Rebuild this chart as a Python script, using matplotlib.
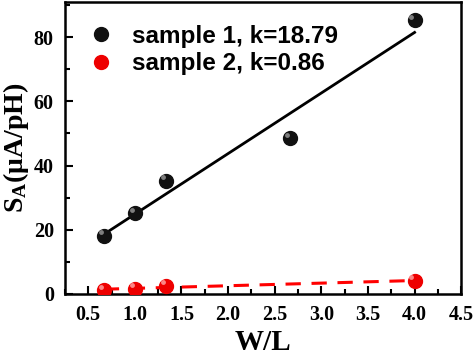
import numpy as np
import matplotlib
matplotlib.use("Agg")
import matplotlib.pyplot as plt
from matplotlib.ticker import MultipleLocator

plt.rcParams["mathtext.fontset"] = "custom"
plt.rcParams["mathtext.rm"] = "Liberation Serif:bold"
plt.rcParams["mathtext.bf"] = "Liberation Serif:bold"
plt.rcParams["mathtext.it"] = "Liberation Serif:bold"

# data
wl1 = [0.667, 1.0, 1.333, 2.667, 4.0]
sa1 = [18.2, 25.1, 35.2, 48.5, 85.3]
wl2 = [0.667, 1.0, 1.333, 4.0]
sa2 = [1.2, 1.6, 2.5, 4.1]
labels = ["sample 1, k=18.79", "sample 2, k=0.86"]

fig = plt.figure(figsize=(4.74, 3.55), dpi=100)
ax = fig.add_axes([0.137, 0.172, 0.836, 0.823])

p1 = np.polyfit(wl1, sa1, 1)
p2 = np.polyfit(wl2, sa2, 1)
xf = np.array([min(wl1), max(wl1)])
ax.plot(xf, np.polyval(p1, xf), color="black", lw=2, zorder=2)
ax.plot(xf, np.polyval(p2, xf), color="red", lw=2.2, dashes=(5, 3.5), zorder=2)

def balls(x, y, c, hl, lab):
    ax.plot(x, y, "o", color=c, mec=c, ms=10, zorder=3, label=lab)
    ax.plot(np.array(x) - 0.035, np.array(y) + 1.1, "o", color=hl, mec="none",
            ms=3.5, alpha=0.8, zorder=4)

balls(wl1, sa1, "#111111", "#9a9a9a", labels[0])
balls(wl2, sa2, "#ee0000", "#ffaaaa", labels[1])

ax.set_xlim(0.25, 4.5)
ax.set_ylim(0, 91)
ax.xaxis.set_major_locator(MultipleLocator(0.5))
ax.xaxis.set_minor_locator(MultipleLocator(0.25))
ax.yaxis.set_major_locator(MultipleLocator(20))
ax.yaxis.set_minor_locator(MultipleLocator(10))
ax.tick_params(which="both", direction="in", width=1.5, top=False, right=False)
ax.tick_params(which="major", length=6, pad=8)
ax.tick_params(which="minor", length=3.5)
for s in ax.spines.values():
    s.set_linewidth(1.8)

for t in ax.get_xticklabels() + ax.get_yticklabels():
    t.set_fontfamily("Liberation Serif")
    t.set_fontweight("bold")
    t.set_fontsize(14.5)

ax.set_xlabel("W/L", fontfamily="Liberation Serif", fontweight="bold", fontsize=21, labelpad=3)
ax.set_ylabel(r"$\mathregular{S_A}$(μA/pH)", fontfamily="Liberation Serif", fontweight="bold",
              fontsize=20, labelpad=2)

leg = ax.legend(loc="upper left", frameon=False, handlelength=0.6, handletextpad=0.95,
                prop={"family": "Liberation Sans", "weight": "bold", "size": 17.5},
                borderaxespad=0.3, labelspacing=0.2, bbox_to_anchor=(0.03, 0.98))

fig.savefig("out.png", dpi=100)
